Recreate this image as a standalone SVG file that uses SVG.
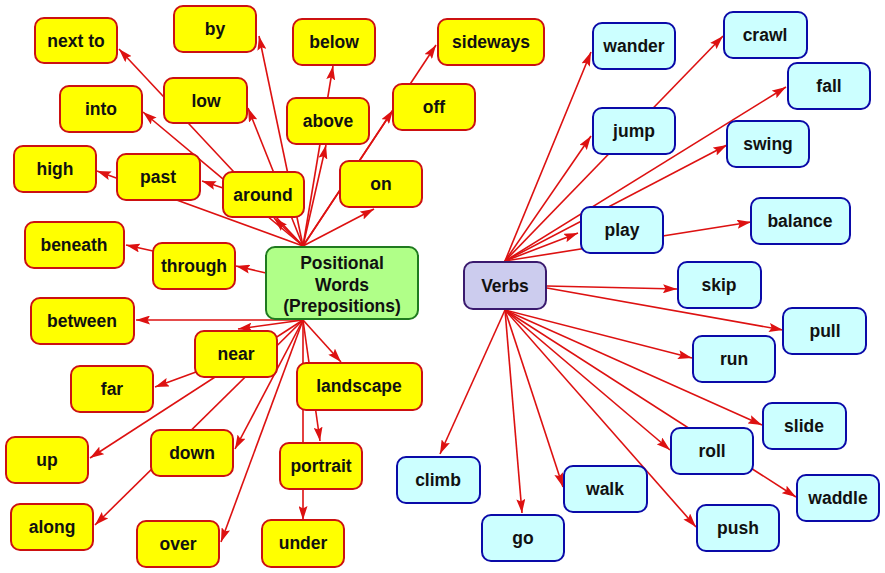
<svg xmlns="http://www.w3.org/2000/svg" width="885" height="573" viewBox="0 0 885 573">
<style>
.y rect{fill:#ffff00;stroke:#cc1111;stroke-width:2}
.b rect{fill:#ccffff;stroke:#0a0aa8;stroke-width:2}
text{font-family:"Liberation Sans",Arial,sans-serif;font-weight:bold;font-size:17.5px;fill:#111;text-anchor:middle}
#connectors line{stroke:#dd1111;stroke-width:1.6;fill:none}
#connectors line.a{marker-end:url(#ah)}
</style>
<defs>
<marker id="ah" markerUnits="userSpaceOnUse" markerWidth="15" markerHeight="9" refX="14" refY="4.5" orient="auto">
<path d="M0,0 L14,4.5 L0,9 L2.5,4.5 z" fill="#dd1111"/>
</marker>
</defs>
<rect width="885" height="573" fill="#ffffff"/>
<g id="connectors">
<line class="a" x1="303" y1="246" x2="274" y2="218"/>
<line class="a" x1="303" y1="246" x2="97" y2="171"/>
<line class="a" x1="303" y1="246" x2="143" y2="112"/>
<line class="a" x1="303" y1="246" x2="119" y2="49"/>
<line class="a" x1="303" y1="246" x2="248" y2="108"/>
<line class="a" x1="303" y1="246" x2="259" y2="36"/>
<line class="a" x1="303" y1="246" x2="326" y2="145"/>
<line class="a" x1="303" y1="246" x2="333" y2="66"/>
<line class="a" x1="303" y1="246" x2="393" y2="110"/>
<line class="a" x1="303" y1="246" x2="436" y2="45"/>
<line class="a" x1="303" y1="246" x2="374" y2="209"/>
<line class="a" x1="223" y1="188" x2="202" y2="181"/>
<line class="a" x1="266" y1="273" x2="236" y2="266"/>
<line class="a" x1="153" y1="251" x2="126" y2="245"/>
<line class="a" x1="303" y1="320" x2="136" y2="320"/>
<line class="a" x1="303" y1="320" x2="238" y2="329"/>
<line class="a" x1="196" y1="372" x2="155" y2="387"/>
<line class="a" x1="303" y1="320" x2="90" y2="458"/>
<line class="a" x1="303" y1="320" x2="95" y2="525"/>
<line class="a" x1="303" y1="320" x2="235" y2="449"/>
<line class="a" x1="303" y1="320" x2="221" y2="542"/>
<line class="a" x1="303" y1="320" x2="341" y2="362"/>
<line class="a" x1="303" y1="320" x2="320" y2="441"/>
<line class="a" x1="303" y1="320" x2="303" y2="520"/>
<line class="a" x1="505" y1="261" x2="591" y2="52"/>
<line class="a" x1="505" y1="261" x2="591" y2="136"/>
<line class="a" x1="505" y1="261" x2="723" y2="36"/>
<line class="a" x1="505" y1="261" x2="786" y2="87"/>
<line class="a" x1="505" y1="261" x2="727" y2="145"/>
<line class="a" x1="505" y1="261" x2="578" y2="233"/>
<line class="a" x1="505" y1="261" x2="751" y2="222"/>
<line class="a" x1="547" y1="286" x2="677" y2="289"/>
<line class="a" x1="547" y1="288" x2="783" y2="330"/>
<line class="a" x1="505" y1="310" x2="692" y2="358"/>
<line class="a" x1="505" y1="310" x2="762" y2="425"/>
<line class="a" x1="505" y1="310" x2="670" y2="450"/>
<line class="a" x1="505" y1="310" x2="796" y2="497"/>
<line class="a" x1="505" y1="310" x2="696" y2="527"/>
<line class="a" x1="505" y1="310" x2="563" y2="487"/>
<line class="a" x1="505" y1="310" x2="522" y2="513"/>
<line class="a" x1="505" y1="310" x2="440" y2="454"/>
</g>
<g id="positional"><rect x="266" y="247" width="152" height="72" rx="9" fill="#b0ff88" stroke="#1f7a1f" stroke-width="2"/><text x="342" y="269">Positional</text><text x="342" y="291">Words</text><text x="342" y="312">(Prepositions)</text></g>
<g id="verbs"><rect x="464" y="262" width="82" height="47" rx="9" fill="#ccccee" stroke="#3a1a6e" stroke-width="2"/><text x="505" y="292">Verbs</text></g>
<g id="next-to" class="y"><rect x="35" y="18" width="82" height="45" rx="9"/><text x="76" y="47">next to</text></g>
<g id="by" class="y"><rect x="174" y="6" width="82" height="46" rx="9"/><text x="215" y="35">by</text></g>
<g id="low" class="y"><rect x="164" y="78" width="83" height="45" rx="9"/><text x="206" y="107">low</text></g>
<g id="into" class="y"><rect x="60" y="86" width="82" height="46" rx="9"/><text x="101" y="115">into</text></g>
<g id="high" class="y"><rect x="14" y="146" width="82" height="46" rx="9"/><text x="55" y="175">high</text></g>
<g id="past" class="y"><rect x="117" y="154" width="83" height="46" rx="9"/><text x="158" y="183">past</text></g>
<g id="around" class="y"><rect x="223" y="172" width="81" height="45" rx="9"/><text x="263" y="201">around</text></g>
<g id="below" class="y"><rect x="293" y="19" width="82" height="46" rx="9"/><text x="334" y="48">below</text></g>
<g id="above" class="y"><rect x="287" y="98" width="82" height="46" rx="9"/><text x="328" y="127">above</text></g>
<g id="sideways" class="y"><rect x="438" y="19" width="106" height="46" rx="9"/><text x="491" y="48">sideways</text></g>
<g id="off" class="y"><rect x="393" y="84" width="82" height="46" rx="9"/><text x="434" y="113">off</text></g>
<g id="on" class="y"><rect x="340" y="161" width="82" height="46" rx="9"/><text x="381" y="190">on</text></g>
<g id="beneath" class="y"><rect x="25" y="222" width="99" height="46" rx="9"/><text x="74" y="251">beneath</text></g>
<g id="through" class="y"><rect x="153" y="243" width="82" height="46" rx="9"/><text x="194" y="272">through</text></g>
<g id="between" class="y"><rect x="31" y="298" width="103" height="46" rx="9"/><text x="82" y="327">between</text></g>
<g id="near" class="y"><rect x="195" y="331" width="82" height="46" rx="9"/><text x="236" y="360">near</text></g>
<g id="far" class="y"><rect x="71" y="366" width="82" height="46" rx="9"/><text x="112" y="395">far</text></g>
<g id="up" class="y"><rect x="6" y="437" width="82" height="46" rx="9"/><text x="47" y="466">up</text></g>
<g id="down" class="y"><rect x="151" y="430" width="82" height="46" rx="9"/><text x="192" y="459">down</text></g>
<g id="along" class="y"><rect x="11" y="504" width="82" height="46" rx="9"/><text x="52" y="533">along</text></g>
<g id="over" class="y"><rect x="137" y="521" width="82" height="46" rx="9"/><text x="178" y="550">over</text></g>
<g id="landscape" class="y"><rect x="297" y="363" width="125" height="47" rx="9"/><text x="359" y="392">landscape</text></g>
<g id="portrait" class="y"><rect x="280" y="443" width="82" height="46" rx="9"/><text x="321" y="472">portrait</text></g>
<g id="under" class="y"><rect x="262" y="520" width="82" height="47" rx="9"/><text x="303" y="549">under</text></g>
<g id="wander" class="b"><rect x="593" y="23" width="82" height="46" rx="9"/><text x="634" y="52">wander</text></g>
<g id="crawl" class="b"><rect x="724" y="12" width="83" height="46" rx="9"/><text x="765" y="41">crawl</text></g>
<g id="fall" class="b"><rect x="788" y="63" width="82" height="46" rx="9"/><text x="829" y="92">fall</text></g>
<g id="jump" class="b"><rect x="593" y="108" width="82" height="46" rx="9"/><text x="634" y="137">jump</text></g>
<g id="swing" class="b"><rect x="727" y="121" width="82" height="46" rx="9"/><text x="768" y="150">swing</text></g>
<g id="play" class="b"><rect x="581" y="207" width="82" height="46" rx="9"/><text x="622" y="236">play</text></g>
<g id="balance" class="b"><rect x="751" y="198" width="99" height="46" rx="9"/><text x="800" y="227">balance</text></g>
<g id="skip" class="b"><rect x="678" y="262" width="83" height="46" rx="9"/><text x="719" y="291">skip</text></g>
<g id="pull" class="b"><rect x="783" y="308" width="83" height="46" rx="9"/><text x="825" y="337">pull</text></g>
<g id="run" class="b"><rect x="693" y="336" width="82" height="46" rx="9"/><text x="734" y="365">run</text></g>
<g id="slide" class="b"><rect x="763" y="403" width="83" height="46" rx="9"/><text x="804" y="432">slide</text></g>
<g id="roll" class="b"><rect x="671" y="428" width="82" height="46" rx="9"/><text x="712" y="457">roll</text></g>
<g id="waddle" class="b"><rect x="797" y="475" width="82" height="46" rx="9"/><text x="838" y="504">waddle</text></g>
<g id="climb" class="b"><rect x="397" y="457" width="83" height="46" rx="9"/><text x="438" y="486">climb</text></g>
<g id="go" class="b"><rect x="482" y="515" width="82" height="46" rx="9"/><text x="523" y="544">go</text></g>
<g id="walk" class="b"><rect x="564" y="466" width="83" height="46" rx="9"/><text x="605" y="495">walk</text></g>
<g id="push" class="b"><rect x="697" y="505" width="82" height="46" rx="9"/><text x="738" y="534">push</text></g>
</svg>
